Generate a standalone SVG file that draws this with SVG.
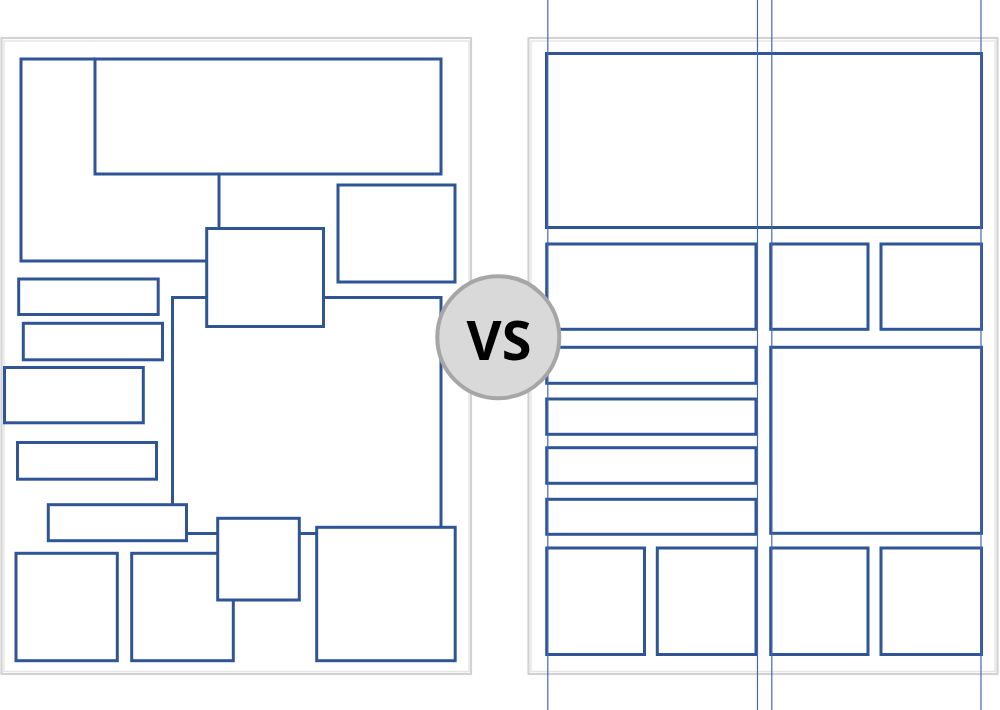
<svg xmlns="http://www.w3.org/2000/svg" width="1000" height="710" viewBox="0 0 1000 710">
<style>
.pgo{fill:none;stroke:#d2d2d2;stroke-width:2.2}
.pgi{fill:none;stroke:#e4e4e4;stroke-width:1.4}
.box{fill:#ffffff;stroke:#2f5597;stroke-width:3}
.ln{fill:none;stroke:#2f5597;stroke-width:3}
.guide{stroke:#4468b0;stroke-width:1.2}
.vs{font-family:"Open Sans","Liberation Sans",sans-serif;font-weight:bold;font-size:54px;fill:#000}
</style>
<rect width="1000" height="710" fill="#ffffff"/>
<g id="pages">
<rect class="pgo" x="1.5" y="38" width="469.5" height="636"/>
<rect class="pgi" x="4" y="41" width="465" height="630.5"/>
<rect class="pgo" x="528.5" y="38" width="469" height="636"/>
<rect class="pgi" x="531" y="41" width="464" height="630.5"/>
</g>
<g id="connectors">
<path class="ln" d="M207,261 H21 V59 H95"/>
<path class="ln" d="M219,174 V229"/>
<path class="ln" d="M172.5,504 V297.5 H207"/>
<path class="ln" d="M323.5,297.5 H441 V527.5"/>
<path class="ln" d="M186.5,533.5 H218"/>
<path class="ln" d="M299,533.5 H316.5"/>
</g>
<g id="left-layout">
<g id="l-top"><rect class="box" x="95" y="59" width="346" height="115"/></g>
<g id="l-right-top"><rect class="box" x="338" y="185" width="117" height="97"/></g>
<g id="l-center"><rect class="box" x="206.7" y="228.5" width="116.8" height="98"/></g>
<g id="l-bar1"><rect class="box" x="18.7" y="279" width="139.5" height="35.5"/></g>
<g id="l-bar2"><rect class="box" x="23.3" y="323.3" width="139.2" height="36.5"/></g>
<g id="l-bar3"><rect class="box" x="4.5" y="367.5" width="138.8" height="55.3"/></g>
<g id="l-bar4"><rect class="box" x="17.5" y="442.5" width="139" height="36.7"/></g>
<g id="l-bar5"><rect class="box" x="48.3" y="504.7" width="138.2" height="36"/></g>
<g id="l-box-a"><rect class="box" x="16" y="553.3" width="101.3" height="107.4"/></g>
<g id="l-box-b"><rect class="box" x="131.7" y="553.3" width="101.6" height="107.4"/></g>
<g id="l-box-c"><rect class="box" x="217.7" y="518.3" width="81.6" height="81.7"/></g>
<g id="l-box-d"><rect class="box" x="316.7" y="527.3" width="138.5" height="133.4"/></g>
</g>
<g id="right-layout">
<g id="r-top"><rect class="box" x="546.5" y="53.5" width="435" height="174"/></g>
<g id="r-wide"><rect class="box" x="546.7" y="244" width="209.3" height="85.3"/></g>
<g id="r-sq1"><rect class="box" x="770.7" y="244" width="97.3" height="85.3"/></g>
<g id="r-sq2"><rect class="box" x="881" y="244" width="100.5" height="85.3"/></g>
<g id="r-bar1"><rect class="box" x="546.7" y="347.3" width="209.3" height="36"/></g>
<g id="r-bar2"><rect class="box" x="546.7" y="399" width="209.3" height="35.3"/></g>
<g id="r-bar3"><rect class="box" x="546.7" y="447.7" width="209.3" height="35.6"/></g>
<g id="r-bar4"><rect class="box" x="546.7" y="499.3" width="209.3" height="35"/></g>
<g id="r-tall"><rect class="box" x="770.7" y="347.3" width="210.8" height="186"/></g>
<g id="r-b1"><rect class="box" x="546.7" y="548" width="97.8" height="106.5"/></g>
<g id="r-b2"><rect class="box" x="657.3" y="548" width="98.7" height="106.5"/></g>
<g id="r-b3"><rect class="box" x="770.7" y="548" width="97.3" height="106.5"/></g>
<g id="r-b4"><rect class="box" x="881" y="548" width="100.5" height="106.5"/></g>
</g>
<g id="guides">
<line class="guide" x1="547.8" y1="0" x2="547.8" y2="710"/>
<line class="guide" x1="757.5" y1="0" x2="757.5" y2="710"/>
<line class="guide" x1="771.8" y1="0" x2="771.8" y2="710"/>
<line class="guide" x1="981" y1="0" x2="981" y2="710"/>
</g>
<g id="vs">
<circle cx="498.3" cy="337.2" r="61" fill="#d9d9d9" stroke="#a6a6a6" stroke-width="4"/>
<text class="vs" x="499" y="360" text-anchor="middle">VS</text>
</g>
</svg>
